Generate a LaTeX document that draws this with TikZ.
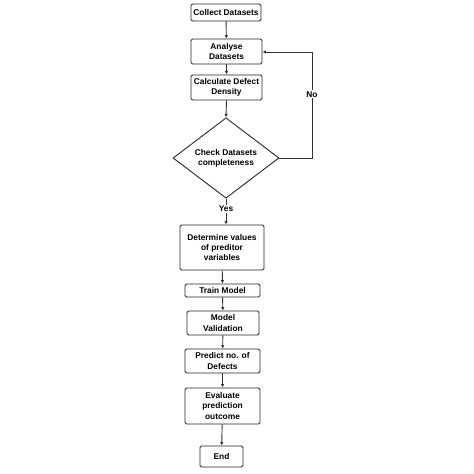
\documentclass[tikz,border=0pt]{standalone}
\usepackage{fontspec}
\setmainfont{Liberation Sans}
\usetikzlibrary{shapes.geometric,arrows.meta}
\begin{document}
\begin{tikzpicture}[x=1bp,y=-1bp,
  font=\fontsize{8.4}{10.3}\selectfont\bfseries,
  box/.style={draw=black!85,line width=0.9pt,rounded corners=1.5pt,align=center,inner sep=0pt},
  arr/.style={draw=black!80,line width=0.9pt,-{Latex[length=3.5pt,width=3.5pt]}},
  lbl/.style={fill=white,inner sep=1pt}]
\useasboundingbox (0,0) rectangle (474,474);
\node[box,minimum width=70bp,minimum height=17bp] (collect) at (226,12.5) {Collect Datasets};
\node[box,minimum width=71bp,minimum height=25bp] (analyse) at (226.5,51.5) {Analyse\\Datasets};
\node[box,minimum width=71bp,minimum height=25bp] (calc) at (226.5,87.5) {Calculate Defect\\Density};
\node[diamond,draw=black!85,line width=0.9pt,align=center,inner sep=0pt,minimum width=106bp,minimum height=78bp] (check) at (226,158) {Check Datasets\\completeness};
\node[box,minimum width=84bp,minimum height=45bp] (determine) at (222,247.5) {Determine values\\of preditor\\variables};
\node[box,minimum width=75bp,minimum height=13bp] (train) at (222.5,290.5) {Train Model};
\node[box,minimum width=72bp,minimum height=24bp] (valid) at (223,323) {Model\\Validation};
\node[box,minimum width=75bp,minimum height=24bp] (predict) at (222.5,361) {Predict no. of\\Defects};
\node[box,minimum width=75bp,minimum height=36bp] (eval) at (222.5,406) {Evaluate\\prediction\\outcome};
\node[box,minimum width=43bp,minimum height=21bp] (end) at (221.5,456.5) {End};
\coordinate (nr) at (312,158);
\coordinate (nt) at (312,52);
\draw[arr] (collect) -- (analyse);
\draw[arr] (analyse) -- (calc);
\draw[arr] (calc.south) -- (check.north);
\draw[arr] (check.south) -- node[lbl,pos=0.4]{Yes} (determine.north -| check.south);
\draw[arr] (check.east) -- (nr) -- node[lbl,pos=0.6]{No} (nt) -- (analyse.east |- nt);
\draw[arr] (determine) -- (train);
\draw[arr] (train) -- (valid);
\draw[arr] (valid) -- (predict);
\draw[arr] (predict) -- (eval);
\draw[arr] (eval) -- (end);
\end{tikzpicture}
\end{document}
